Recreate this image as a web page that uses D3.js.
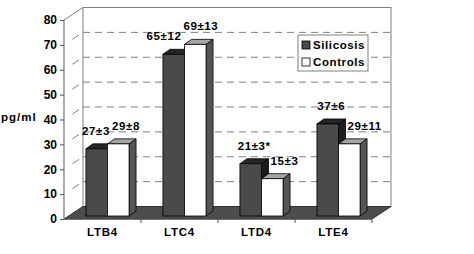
<!DOCTYPE html>
<html><head><meta charset="utf-8">
<script src="https://cdn.jsdelivr.net/npm/d3@7"></script>
<style>
body{margin:0;background:#fff;}
text{font-family:"Liberation Sans",Arial,sans-serif;font-weight:bold;fill:#000;}
</style></head>
<body><svg id="c" width="474" height="254"></svg>
<script>
const categories = ["LTB4","LTC4","LTD4","LTE4"];
const seriesNames = ["Silicosis","Controls"];
const silicosis = [27,65,21,37];
const controls = [29,69,15,29];
const silicosisLabels = ["27±3","65±12","21±3*","37±6"];
const controlsLabels = ["29±8","69±13","15±3","29±11"];
const yTicks = [0,10,20,30,40,50,60,70,80];

const svg = d3.select("#c");
const X0 = 64, X1 = 372;
const DX = 19, DY = -12.5;       // full depth of floor / walls
const BX = 5, BY = -3;           // offset of the bars' front plane
const bdx = 7, bdy = -5;         // bar depth

const y = d3.scaleLinear().domain([0,80]).range([219,20]);
const x0 = d3.scaleBand().domain(categories).range([X0,X1]).paddingInner(0).paddingOuter(0);
const x1 = d3.scaleBand().domain(seriesNames).range([0, x0.bandwidth()*0.56]);
const groupOff = x0.bandwidth()*0.22;

const faces = {
  Silicosis: {front:"#4a4a4a", top:"#262626", side:"#1c1c1c"},
  Controls:  {front:"#ffffff", top:"#a6a6a6", side:"#555555"}
};

// back wall
const yTop = y(80), yBot = y(0);
svg.append("rect").attr("x",X0+DX).attr("y",yTop+DY).attr("width",X1-X0).attr("height",yBot-yTop)
  .attr("fill","#fff").attr("stroke","#808080").attr("stroke-width",1);
// side wall top edge
svg.append("line").attr("x1",X0).attr("y1",yTop).attr("x2",X0+DX).attr("y2",yTop+DY)
  .attr("stroke","#808080");
// gridlines
const grid = yTicks.filter(d=>d>0 && d<80);
svg.selectAll(".g").data(grid).enter().append("line")
  .attr("x1",X0+DX).attr("x2",X1+DX).attr("y1",d=>y(d)+DY).attr("y2",d=>y(d)+DY)
  .attr("stroke","#808080").attr("stroke-dasharray","7,5");
svg.selectAll(".gd").data(grid).enter().append("line")
  .attr("x1",X0).attr("y1",d=>y(d)).attr("x2",X0+DX).attr("y2",d=>y(d)+DY)
  .attr("stroke","#808080").attr("stroke-dasharray","0,10,8,10");

// floor
svg.append("polygon")
  .attr("points",[[X0,yBot],[X1,yBot],[X1+DX,yBot+DY],[X0+DX,yBot+DY]].map(p=>p.join(",")).join(" "))
  .attr("fill","#4d4d4d").attr("stroke","#333");

// y axis
svg.append("line").attr("x1",X0).attr("x2",X0).attr("y1",yBot).attr("y2",yTop).attr("stroke","#555");
const yAxis = d3.axisLeft(y).tickValues(yTicks).tickSize(4).tickPadding(3);
const ga = svg.append("g").attr("transform",`translate(${X0},0)`).call(yAxis);
ga.select(".domain").remove();
ga.selectAll("line").attr("stroke","#555");
ga.selectAll("text").attr("font-size","12px").attr("font-family","Liberation Sans, Arial, sans-serif").attr("font-weight","bold").attr("fill","#000");

// x axis
svg.append("line").attr("x1",X0).attr("x2",X1).attr("y1",yBot).attr("y2",yBot).attr("stroke","#555");
const bounds = categories.map(c=>x0(c)+x0.bandwidth());
svg.selectAll(".xt").data(bounds).enter().append("line")
  .attr("x1",d=>d).attr("x2",d=>d).attr("y1",yBot).attr("y2",yBot+4).attr("stroke","#555");
svg.selectAll(".xl").data(categories).enter().append("text")
  .attr("x",d=>x0(d)+x0.bandwidth()/2).attr("y",236).attr("text-anchor","middle")
  .attr("font-size","11.5px").attr("letter-spacing","0.8px").text(d=>d);

// y title
svg.append("text").attr("x",1).attr("y",121).attr("font-size","11.5px").attr("letter-spacing","1px").text("pg/ml");

// bars
const bars = [];
categories.forEach((c,i)=>{
  [["Silicosis",silicosis[i],silicosisLabels[i]],["Controls",controls[i],controlsLabels[i]]].forEach(([s,v,l])=>{
    const xl = x0(c)+groupOff+x1(s)+BX, w = x1.bandwidth();
    const yt = y(v)+BY, yb = y(0)+BY;
    bars.push({c,s,v,l,xl,w,yt,yb});
  });
});
const bg = svg.selectAll(".bar").data(bars).enter().append("g");
bg.append("polygon").attr("points",d=>[[d.xl+d.w,d.yb],[d.xl+d.w+bdx,d.yb+bdy],[d.xl+d.w+bdx,d.yt+bdy],[d.xl+d.w,d.yt]].map(p=>p.join(",")).join(" "))
  .attr("fill",d=>faces[d.s].side).attr("stroke","#000").attr("stroke-width",0.8);
bg.append("polygon").attr("points",d=>[[d.xl,d.yt],[d.xl+d.w,d.yt],[d.xl+d.w+bdx,d.yt+bdy],[d.xl+bdx,d.yt+bdy]].map(p=>p.join(",")).join(" "))
  .attr("fill",d=>faces[d.s].top).attr("stroke","#000").attr("stroke-width",0.8);
bg.append("rect").attr("x",d=>d.xl).attr("y",d=>d.yt).attr("width",d=>d.w).attr("height",d=>d.yb-d.yt)
  .attr("fill",d=>faces[d.s].front).attr("stroke","#000").attr("stroke-width",0.8);

// labels with simple collision avoidance
const lab = svg.selectAll(".lab").data(bars).enter().append("text")
  .attr("font-size","11.5px").attr("letter-spacing","0.6px").attr("text-anchor","middle")
  .attr("x",d=>d.xl+d.w/2+bdx/2).attr("y",d=>d.yt-18+4).text(d=>d.l);
lab.each(function(d){ d.tw = this.getBBox().width; d.cx = d.xl+d.w/2+bdx/2; d.cy = d.yt-18; });
const ov = (a,b)=>!(a.x1<=b.x0||b.x1<=a.x0||a.y1<=b.y0||b.y1<=a.y0);
const lbox = d=>({x0:d.cx-d.tw/2,x1:d.cx+d.tw/2,y0:d.cy-6,y1:d.cy+6});
const bbox = d=>({x0:d.xl,x1:d.xl+d.w+bdx,y0:d.yt+bdy,y1:d.yb});
categories.forEach(c=>{
  const a = bars.find(b=>b.c===c&&b.s==="Silicosis"), b = bars.find(b=>b.c===c&&b.s==="Controls");
  if(ov(lbox(a),bbox(b))) a.cx = b.xl - 1 - a.tw/2;
  if(ov(lbox(b),bbox(a))) b.cx = a.xl + a.w + bdx + 2 + b.tw/2;
  if(ov(lbox(a),lbox(b))){
    const m=(a.cx+b.cx)/2, h=(a.tw+b.tw)/2+2;
    a.cx = m-h/2; b.cx = m+h/2;
  }
});
lab.attr("x",d=>d.cx);

// legend
const lg = svg.append("g");
lg.append("rect").attr("x",298).attr("y",35).attr("width",70).attr("height",36).attr("fill","#fff").attr("stroke","#808080");
seriesNames.forEach((s,i)=>{
  lg.append("rect").attr("x",302).attr("y",41+i*17).attr("width",8).attr("height",8)
    .attr("fill",faces[s].front).attr("stroke","#000").attr("stroke-width",0.8);
  lg.append("text").attr("x",313).attr("y",48.5+i*17).attr("font-size","11.5px").attr("letter-spacing","0.6px").text(s);
});
</script></body></html>
